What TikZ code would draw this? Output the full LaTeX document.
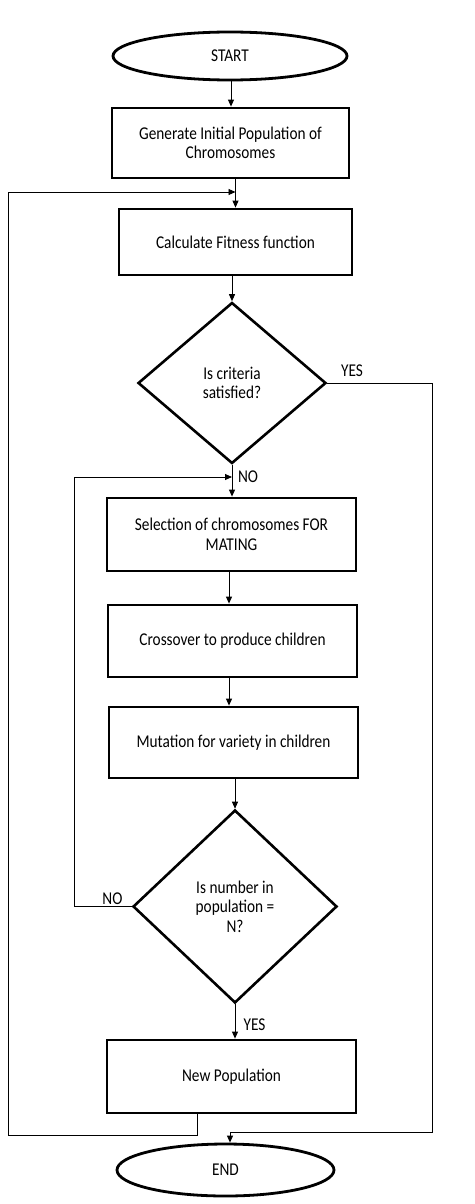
\documentclass[tikz,border=0pt]{standalone}
\usepackage{fontspec}
\setmainfont{Carlito}[FakeStretch=0.85]
\usetikzlibrary{shapes.geometric,arrows.meta,calc}
\begin{document}
\begin{tikzpicture}[x=1pt,y=-1pt,
  txt/.style={font=\fontsize{18}{19.5}\selectfont},
  box/.style={txt,draw,line width=2.8pt,rectangle,inner sep=0pt,align=center},
  term/.style={txt,draw,line width=2.8pt,ellipse,inner sep=0pt},
  dec/.style={txt,draw,line width=2.6pt,diamond,inner sep=0pt,align=center},
  conn/.style={line width=0.9pt},
  arr/.style={conn,-{Triangle[length=7pt,width=6pt]}},
  lbl/.style={txt}]
\useasboundingbox (0,0) rectangle (474,1204);
\fill[white] (0,0) rectangle (474,1204);

\node[term,minimum width=234pt,minimum height=48pt] (start) at (230,56) {START};
\node[box,minimum width=237pt,minimum height=70pt] (gen) at (230.5,143) {Generate Initial Population of\\Chromosomes};
\node[box,minimum width=233pt,minimum height=66pt] (fit) at (235.5,242) {Calculate Fitness function};
\node[dec,minimum width=188pt,minimum height=161pt] (dec1) at (232,383) {Is criteria\\satisfied?};
\node[box,minimum width=249pt,minimum height=73pt] (sel) at (231.5,534.5) {Selection of chromosomes FOR\\MATING};
\node[box,minimum width=249pt,minimum height=72pt] (cross) at (232.5,641) {Crossover to produce children};
\node[box,minimum width=249pt,minimum height=71pt] (mut) at (233.5,742.5) {Mutation for variety in children};
\node[dec,minimum width=204pt,minimum height=193pt] (dec2) at (235,906.5) {Is number in\\population =\\N?};
\node[box,minimum width=249pt,minimum height=73pt] (newpop) at (231.5,1076.5) {New Population};
\node[term,minimum width=217pt,minimum height=52pt] (end) at (225.5,1170) {END};

\coordinate (j1) at (fit.north |- 0,192);
\coordinate (j2) at (dec1.south |- 0,477);
\coordinate (j3) at (230,1132);

\draw[arr] (start.south -| 231,0) -- (gen.north -| 231,0);
\draw[arr] (gen.south -| fit.north) -- (fit.north);
\draw[arr] (dec1.north |- fit.south) -- (dec1.north);
\draw[arr] (dec1.south) -- (dec1.south |- sel.north);
\draw[arr] (sel.south -| 229,0) -- (cross.north -| 229,0);
\draw[arr] (cross.south -| 229,0) -- (mut.north -| 229,0);
\draw[arr] (dec2.north |- mut.south) -- (dec2.north);
\draw[arr] (dec2.south) -- (dec2.south |- newpop.north);

% outer loop back
\draw[arr] (newpop.south -| 197,0) -- (197,1135) -- (8.5,1135) -- (8.5,192) -- (j1);
% inner loop back
\draw[arr] (dec2.west) -- (74,906.5) -- (74,477) -- (j2);
% YES to end
\draw[arr] (dec1.east) -- (432,383) -- (432,1132) -- (j3) -- (end.north -| j3);

\node[lbl] (yes1) at (352,371) {YES};
\node[lbl] (no1) at (248,477) {NO};
\node[lbl] (no2) at (112.5,899) {NO};
\node[lbl] (yes2) at (254.5,1025) {YES};
\end{tikzpicture}
\end{document}
